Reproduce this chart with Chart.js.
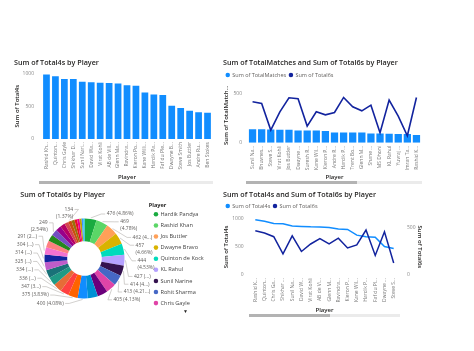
<!DOCTYPE html>
<html lang="en">
<head>
<meta charset="UTF-8">
<title>Player dashboard</title>
<script src="https://cdn.jsdelivr.net/npm/chart.js"></script>
<style>
  body { margin: 0; background: #fff; }
  #page { position: relative; width: 474px; height: 351px; overflow: hidden; background: #fff; }
  canvas { position: absolute; }
  .scroll { position: absolute; height: 3px; background: #ebebeb; }
  .scroll div { height: 3px; background: #b3b3b3; }
  #more { position: absolute; left: 183px; top: 308px; font: 5px 'Open Sans', sans-serif; color: #252423; }
</style>
</head>
<body>
<div id="page">
  <canvas id="fours" width="221" height="137" style="left:0;top:52px"></canvas>
  <canvas id="matches" width="253" height="137" style="left:221px;top:52px"></canvas>
  <canvas id="sixes" width="221" height="140" style="left:0;top:187px"></canvas>
  <canvas id="combo" width="253" height="140" style="left:221px;top:187px"></canvas>
  <div class="scroll" style="left:39px;top:181px;width:174px"><div style="width:111px"></div></div>
  <div class="scroll" style="left:246px;top:181px;width:176px"><div style="width:111px"></div></div>
  <div class="scroll" style="left:249px;top:314px;width:151px"><div style="width:81px"></div></div>
  <span id="more">▼</span>
</div>
<script>
// --- Sum of Total4s by Player ---
const fourPlayers = ['Rashid Kh...', 'Quinton...', 'Chris Gayle', 'Shikhar D...', 'Sunil Nari...', 'David Wa...',
  'Virat Kohli', 'AB de Vill...', 'Glenn Ma...', 'Ravindra...', 'Kieron Po...', 'Kane Willi...', 'Hardik Pa...',
  'Faf du Ple...', 'Dwayne B...', 'Steve Smith', 'Jos Buttler', 'Andre Ru...', 'Ben Stokes'];
const fourValues = [983, 957, 915, 912, 870, 864, 856, 853, 845, 818, 810, 709, 679, 671, 506, 470, 429, 409, 399];

// --- Sum of TotalMatches and Sum of Total6s by Player ---
const matchPlayers = ['Sunil Na...', 'Bhuvnes...', 'Steve S...', 'Virat Kohli', 'Jos Buttler', 'Dwayne ...',
  'Suresh R...', 'Kane Wil...', 'Kieron P...', 'Andre R...', 'Hardik P...', 'Trent Bo...', 'Glenn M...',
  'Shane ...', 'MS Dhoni', 'KL Rahul', 'Yuvraj ...', 'Imran Ta...', 'Rashid K...'];
const matchValues = [140, 140, 137, 133, 133, 127, 127, 127, 120, 106, 106, 106, 106, 96, 96, 92, 89, 89, 79];
const matchSixes = [421, 404, 130, 318, 462, 451, 171, 318, 287, 311, 465, 369, 328, 386, 103, 438, 274, 72, 465];

// --- Sum of Total6s by Player (donut) ---
const piePlayers = ['Hardik Pandya', 'Rashid Khan', 'Jos Buttler', 'Dwayne Bravo', 'Quinton de Kock', 'KL Rahul',
  'Sunil Narine', 'Rohit Sharma', 'Chris Gayle', 'Bhuvneshwar Kumar', 'Ravindra Jadeja', 'Shane Watson',
  'Trent Boult', 'AB de Villiers', 'Glenn Maxwell', 'Virat Kohli', 'Andre Russell', 'Kane Williamson',
  'Jasprit Bumrah', 'Kieron Pollard', 'Yuvraj Singh', 'Rishabh Pant', 'David Warner', 'Shikhar Dhawan',
  'Faf du Plessis', 'Suresh Raina', 'Steve Smith', 'Sanju Samson', 'MS Dhoni', 'Shreyas Iyer',
  'Yuzvendra Chahal', 'Imran Tahir', 'Ben Stokes'];
const pieValues = [476, 469, 462, 457, 444, 427, 414, 413, 405, 404, 402, 400, 375, 347, 336, 334, 325, 314,
  304, 291, 275, 262, 249, 215, 190, 160, 134, 120, 105, 95, 85, 64, 50];
const pieLabels = ['476 (4.86%)', '469\n(4.78%)', '462 (4...)', '457\n(4.66%)', '444\n(4.53%)', '427 (...)',
  '414 (4...)', '413 (4.21...)', '405 (4.13%)', '', '', '400 (4.08%)', '375 (3.83%)', '347 (3...)', '336 (...)',
  '334 (...)', '325 (...)', '314 (...)', '304 (...)', '291 (2...)', '', '', '249\n(2.54%)', '', '', '',
  '134\n(1.37%)', '', '', '', '', '', ''];
const pieColors = ['#1AAB40', '#5BD667', '#FFA058', '#D9B300', '#00DBBC', '#B5A1FF', '#34124F', '#4668C5',
  '#E044A7', '#6B007B', '#0091D5', '#118DFF', '#FF6300', '#FF4141', '#E66C37', '#1F9A85', '#197278',
  '#BE5DC9', '#12239E', '#F472D0', '#FF8080', '#25891C', '#744EC2', '#99008A', '#B60064', '#D64550',
  '#C94F0F', '#99700A', '#E81123', '#EC008C', '#C4A200', '#4092FF', '#15C6F4'];

// --- Sum of Total4s and Sum of Total6s by Player ---
const comboPlayers = ['Rashid K...', 'Quinton...', 'Chris Ga...', 'Shikhar ...', 'Sunil Na...', 'David W...',
  'Virat Kohli', 'AB de Vi...', 'Glenn M...', 'Ravindra...', 'Kieron P...', 'Kane Wil...', 'Hardik P...',
  'Faf du Pl...', 'Dwayne ...', 'Steve S...'];
const comboFours = [983, 957, 915, 912, 870, 864, 856, 853, 845, 818, 810, 709, 679, 671, 506, 470];
const comboSixes = [469, 444, 405, 224, 414, 249, 328, 386, 328, 390, 286, 318, 476, 207, 457, 127];

const BLUE = '#118DFF';
const NAVY = '#12239E';
const FAMILY = "'Open Sans', sans-serif";
const titleFont = { family: FAMILY, size: 7.2, weight: '600', lineHeight: 1.25 };
const tickFont = { family: FAMILY, size: 5 };
const axisFont = { family: FAMILY, size: 6, weight: '600', lineHeight: 1.2 };
const legendFont = { family: FAMILY, size: 5.5 };

Chart.defaults.animation = false;
Chart.defaults.color = '#777';
Chart.defaults.font.family = FAMILY;
Chart.defaults.plugins.tooltip.enabled = false;

function chartTitle(text, top, bottom) {
  return { display: true, text: text, align: 'start', color: '#252423', font: titleFont, padding: { top: top, bottom: bottom } };
}

function xAxis(height) {
  return {
    grid: { display: false, drawTicks: false }, border: { display: false },
    ticks: { autoSkip: false, minRotation: 90, maxRotation: 90, padding: 3, font: tickFont, color: '#777' },
    title: { display: true, text: 'Player', color: '#252423', font: axisFont, padding: 0 },
    afterFit: s => { s.height = height; }
  };
}

// value axis: only round 500 steps get a tick, the top of the range stays unlabeled
function yAxis(title, max, width, pad, position) {
  return {
    position: position || 'left', min: 0, max: max,
    grid: { display: false, drawTicks: false }, border: { display: false },
    ticks: { padding: pad, font: tickFont, color: '#888', callback: v => String(v) },
    title: { display: true, text: title, color: '#252423', font: axisFont, padding: 0 },
    afterBuildTicks: s => {
      s.ticks = [];
      for (let v = 0; v <= max; v += 500) s.ticks.push({ value: v });
    },
    afterFit: s => { s.width = width; }
  };
}

const seriesLegend = {
  display: true, position: 'top', align: 'start',
  labels: {
    usePointStyle: true, pointStyle: 'circle', boxWidth: 3.5, boxHeight: 3.2, padding: 3,
    color: '#605E5C', font: legendFont,
    sort: (a, b) => a.datasetIndex - b.datasetIndex,
    generateLabels: chart => Chart.defaults.plugins.legend.labels.generateLabels(chart)
      .map(item => Object.assign(item, { lineWidth: 0, fillStyle: item.strokeStyle }))
  }
};

// top left: bars
new Chart(document.getElementById('fours'), {
  type: 'bar',
  data: {
    labels: fourPlayers,
    datasets: [{ label: 'Sum of Total4s', data: fourValues, backgroundColor: BLUE, borderColor: BLUE,
      borderWidth: 0, categoryPercentage: 0.8, barPercentage: 0.94 }]
  },
  options: {
    responsive: false, devicePixelRatio: 1,
    layout: { padding: { left: 14, right: 9, top: 0, bottom: 8 } },
    plugins: { legend: { display: false }, title: chartTitle('Sum of Total4s by Player', 6.2, 6.1) },
    scales: { x: xAxis(42), y: yAxis('Sum of Total4s', 1000, 28, 8) }
  }
});

// top right: matches bars + sixes line
new Chart(document.getElementById('matches'), {
  type: 'bar',
  data: {
    labels: matchPlayers,
    datasets: [
      { label: 'Sum of TotalMatches', data: matchValues, backgroundColor: BLUE, borderColor: BLUE,
        borderWidth: 0, categoryPercentage: 0.8, barPercentage: 1, order: 1 },
      { type: 'line', label: 'Sum of Total6s', data: matchSixes, borderColor: NAVY, backgroundColor: NAVY,
        borderWidth: 1.6, pointRadius: 0, tension: 0, order: 0 }
    ]
  },
  options: {
    responsive: false, devicePixelRatio: 1,
    layout: { padding: { left: 2, right: 53, top: 0, bottom: 8 } },
    plugins: { legend: seriesLegend, title: chartTitle('Sum of TotalMatches and Sum of Total6s by Player', 6.2, 2) },
    scales: { x: xAxis(38.2), y: yAxis('Sum of TotalMatch...', 565, 25, 6) }
  }
});

// bottom left: donut with callout labels.
// labels follow the slices clockwise: on the right they get pushed down, on the left pushed up
const pieCallouts = {
  id: 'pieCallouts',
  afterDatasetsDraw(chart) {
    const ctx = chart.ctx;
    const lhRight = 7.8, lhLeft = 8.4, inner = 7;
    const left = [], right = [];
    let cx = 0, cy = 0, reach = 0;
    chart.getDatasetMeta(0).data.forEach((arc, i) => {
      cx = arc.x; cy = arc.y; reach = arc.outerRadius + 7.5;
      if (!pieLabels[i]) return;
      const mid = (arc.startAngle + arc.endAngle) / 2;
      const cos = Math.cos(mid), sin = Math.sin(mid);
      const r = arc.outerRadius;
      const item = {
        mid: mid, lines: pieLabels[i].split('\n'),
        ax: arc.x + cos * (r + 1), ay: arc.y + sin * (r + 1),
        y: arc.y + sin * (r + 5)
      };
      (cos >= 0 ? right : left).push(item);
    });
    right.sort((a, b) => a.mid - b.mid);
    for (let k = 1; k < right.length; k++) {
      const prev = right[k - 1];
      right[k].y = Math.max(right[k].y, prev.y + prev.lines.length * lhRight);
    }
    left.sort((a, b) => a.mid - b.mid);
    for (let k = 1; k < left.length; k++) {
      const need = lhLeft + (left[k].lines.length - 1) * 5;
      left[k].y = Math.min(left[k].y, left[k - 1].y - need);
    }
    ctx.save();
    ctx.font = '5px ' + FAMILY;
    ctx.textBaseline = 'middle';
    ctx.strokeStyle = '#b3b0ad';
    ctx.lineWidth = 0.6;
    ctx.fillStyle = '#605E5C';
    [[right, 1], [left, -1]].forEach(([items, dir]) => {
      items.forEach(it => {
        const dy = it.y - cy;
        const ex = cx + dir * Math.max(6, Math.sqrt(Math.max(0, reach * reach - dy * dy)));
        ctx.beginPath();
        ctx.moveTo(it.ax, it.ay);
        ctx.lineTo(ex, it.y);
        ctx.lineTo(ex + dir * 4, it.y);
        ctx.stroke();
        ctx.textAlign = dir > 0 ? 'left' : 'right';
        it.lines.forEach((line, j) => ctx.fillText(line, ex + dir * 5.5, it.y + j * inner));
      });
    });
    ctx.restore();
  }
};

// legend box sits right of the donut; size the padding from the widest legend entry
const pieLegendFont = { family: FAMILY, size: 5.6 };
const measure = document.createElement('canvas').getContext('2d');
measure.font = pieLegendFont.size + 'px ' + FAMILY;
const widest = Math.max(...piePlayers.slice(0, 9).map(p => measure.measureText(p).width));
const legendLeft = 148.7;
const legendWidth = 5.5 + 3.5 + pieLegendFont.size / 2 + widest + 10;

new Chart(document.getElementById('sixes'), {
  type: 'doughnut',
  data: {
    labels: piePlayers,
    datasets: [{ data: pieValues, backgroundColor: pieColors, borderWidth: 0, radius: 40, cutout: 24 }]
  },
  options: {
    responsive: false, devicePixelRatio: 1,
    layout: { padding: { left: 2 * 84.5 - legendLeft, right: 221 - legendLeft - legendWidth, top: 0, bottom: 13 } },
    plugins: {
      title: chartTitle('Sum of Total6s by Player', 3.5, 3.5),
      legend: {
        display: true, position: 'right', align: 'start', fullSize: false,
        title: { display: true, text: 'Player', position: 'start', color: '#252423',
          font: { family: FAMILY, size: 5.6, weight: 'bold', lineHeight: 1.2 }, padding: { top: 0, bottom: -3.7 } },
        labels: {
          usePointStyle: true, pointStyle: 'circle', boxWidth: 3.5, boxHeight: 3.2, padding: 5.5,
          color: '#444', font: pieLegendFont,
          filter: item => item.index < 9
        }
      }
    }
  },
  plugins: [pieCallouts]
});

// bottom right: two lines, dual axis
new Chart(document.getElementById('combo'), {
  type: 'line',
  data: {
    labels: comboPlayers,
    datasets: [
      { label: 'Sum of Total4s', data: comboFours, borderColor: BLUE, backgroundColor: BLUE,
        borderWidth: 1.5, pointRadius: 0, tension: 0, yAxisID: 'y', order: 1 },
      { label: 'Sum of Total6s', data: comboSixes, borderColor: NAVY, backgroundColor: NAVY,
        borderWidth: 1.5, pointRadius: 0, tension: 0, yAxisID: 'y1', order: 0 }
    ]
  },
  options: {
    responsive: false, devicePixelRatio: 1,
    layout: { padding: { left: 2, right: 50.7, top: 0, bottom: 13.1 } },
    plugins: { legend: seriesLegend, title: chartTitle('Sum of Total4s and Sum of Total6s by Player', 3.5, 0.75) },
    scales: {
      x: Object.assign(xAxis(38.9), { offset: true }),
      y: yAxis('Sum of Total4s', 1000, 27.7, 7),
      y1: yAxis('Sum of Total6s', 595, 25, 8.7, 'right')
    }
  }
});
</script>
</body>
</html>
